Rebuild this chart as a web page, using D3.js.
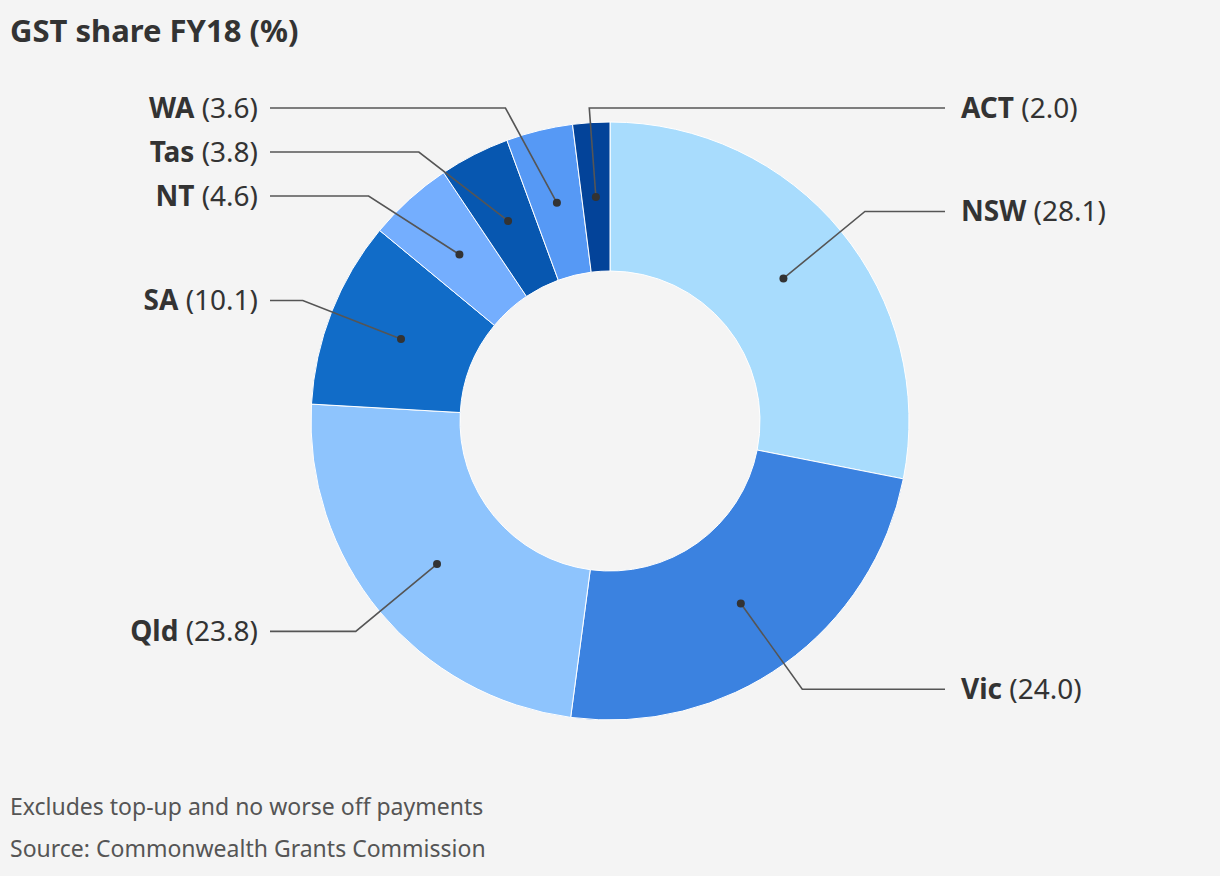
<!DOCTYPE html>
<html>
<head>
<meta charset="utf-8">
<script src="https://cdn.jsdelivr.net/npm/d3@7"></script>
<style>
  body { margin: 0; background: #f4f4f4; }
  svg { display: block; font-family: "Noto Sans", sans-serif; }
</style>
</head>
<body>
<div id="chart"></div>
<script>
// data
const states = ["NSW", "Vic", "Qld", "SA", "NT", "Tas", "WA", "ACT"];
const shares = [28.1, 24.0, 23.8, 10.1, 4.6, 3.8, 3.6, 2.0];
const colours = ["#a8dcfd", "#3b82e0", "#8ec4fd", "#116cc8", "#74aefe", "#0757b0", "#5699f5", "#034399"];

const width = 1220, height = 876;
const cx = 610, cy = 421;
const outerR = 299, innerR = 150, elbowR = 330;
const labelTop = 108, labelGap = 44;

const svg = d3.select('#chart').append('svg')
  .attr('width', width).attr('height', height);

svg.append('rect').attr('width', width).attr('height', height).attr('fill', '#f4f4f4');

// title
svg.append('text').attr('x', 10).attr('y', 42)
  .attr('font-size', 31).attr('font-weight', 700).attr('fill', '#333')
  .text('GST share FY18 (%)');

const data = states.map((s, i) => ({ state: s, value: shares[i], colour: colours[i] }));

const pie = d3.pie().sort(null).value(d => d.value);
const arc = d3.arc().innerRadius(innerR).outerRadius(outerR);
const arcs = pie(data);

const g = svg.append('g').attr('transform', `translate(${cx},${cy})`);

g.selectAll('.slice').data(arcs).join('path')
  .attr('class', 'slice')
  .attr('d', arc)
  .attr('fill', d => d.data.colour)
  .attr('stroke', '#fff').attr('stroke-width', 1);

// label layout
arcs.forEach(d => {
  const mid = (d.startAngle + d.endAngle) / 2;
  d.mid = mid;
  d.dot = arc.centroid(d);
  d.ray = [Math.sin(mid) * elbowR, -Math.cos(mid) * elbowR];
  const deg = mid * 180 / Math.PI;
  d.side = (deg < 180 || deg > 350) ? 1 : -1;
});

[1, -1].forEach(side => {
  const list = arcs.filter(d => d.side === side).sort((a, b) => a.ray[1] - b.ray[1]);
  let prev = -Infinity;
  list.forEach(d => {
    let y = Math.max(d.ray[1], labelTop - cy, prev + labelGap);
    d.labelY = y;
    prev = y;
    if (Math.abs(y - d.ray[1]) < 0.5) {
      d.elbow = d.ray;
    } else if (Math.sign(d.ray[0]) === side && Math.abs(y) < elbowR) {
      d.elbow = [side * Math.sqrt(elbowR * elbowR - y * y), y];
    } else {
      d.elbow = [d.ray[0], y];
    }
  });
});

const lineEndX = side => side === 1 ? 945 - cx : 270 - cx;
const textX = side => side === 1 ? 961 - cx : 258 - cx;

const labels = g.append('g').attr('class', 'labels');

labels.selectAll('polyline').data(arcs).join('polyline')
  .attr('points', d => [d.dot, d.elbow, [lineEndX(d.side), d.labelY]].map(p => p.join(',')).join(' '))
  .attr('fill', 'none').attr('stroke', '#555').attr('stroke-width', 1.6);

labels.selectAll('circle').data(arcs).join('circle')
  .attr('cx', d => d.dot[0]).attr('cy', d => d.dot[1]).attr('r', 4)
  .attr('fill', '#333');

const txt = labels.selectAll('text').data(arcs).join('text')
  .attr('x', d => textX(d.side)).attr('y', d => d.labelY)
  .attr('dy', '0.35em')
  .attr('text-anchor', d => d.side === 1 ? 'start' : 'end')
  .attr('font-size', 28).attr('fill', '#333');
txt.append('tspan').attr('font-weight', 700).text(d => d.data.state);
txt.append('tspan').text(d => ` (${d.data.value.toFixed(1)})`);

// footer
svg.append('text').attr('x', 10).attr('y', 815)
  .attr('font-size', 23).attr('fill', '#555')
  .text('Excludes top-up and no worse off payments');
svg.append('text').attr('x', 10).attr('y', 857)
  .attr('font-size', 23).attr('fill', '#555')
  .text('Source: Commonwealth Grants Commission');
</script>
</body>
</html>
